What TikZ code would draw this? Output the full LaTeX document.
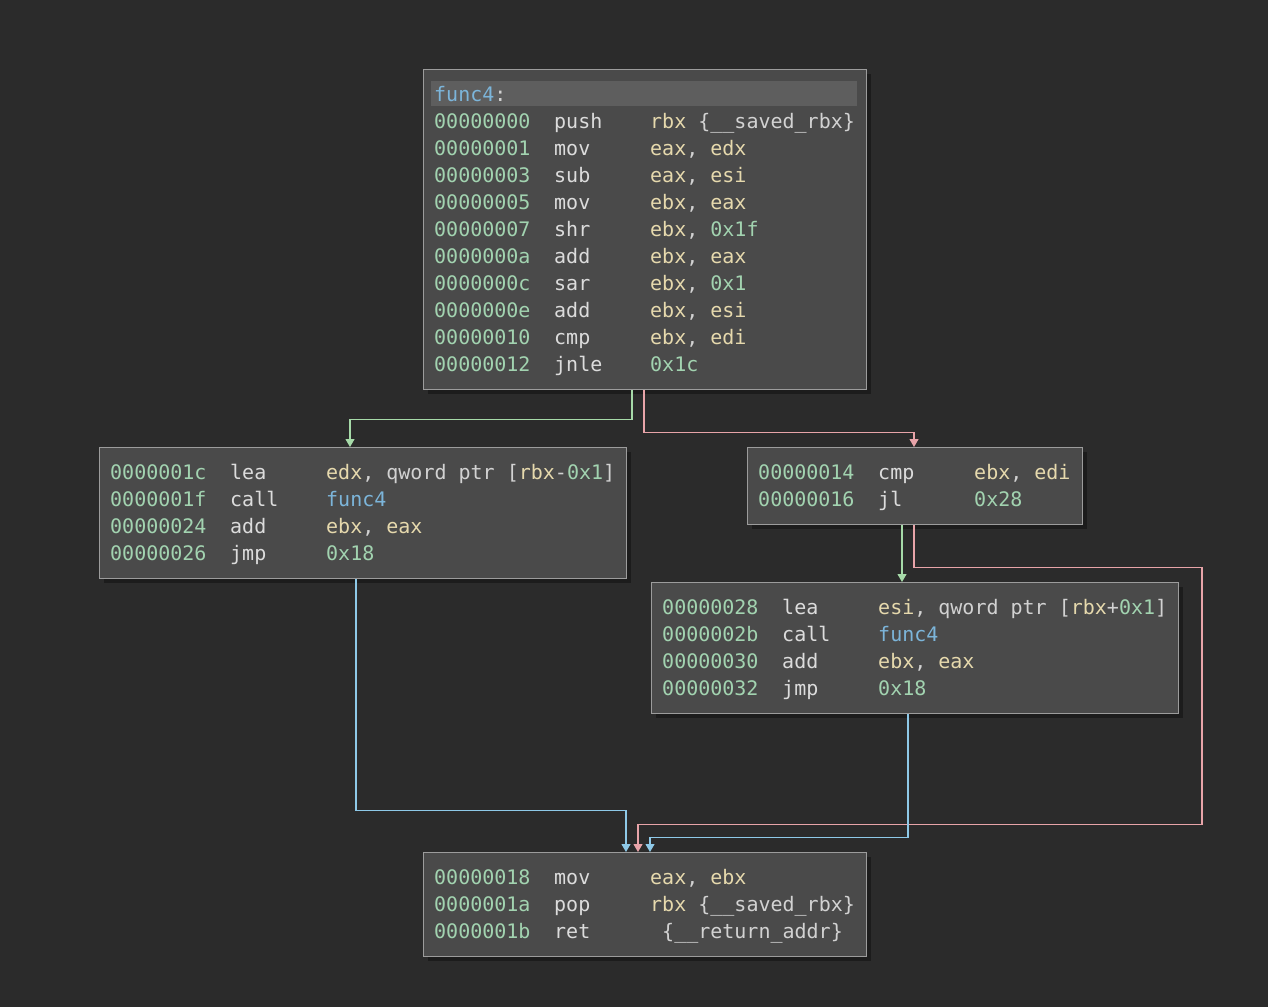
\documentclass[tikz,border=0pt]{standalone}
\usepackage{fontspec}
\usetikzlibrary{arrows.meta,shadows}
\newfontfamily\codefont{DejaVu Sans Mono}
\definecolor{bgc}{HTML}{2B2B2B}
\definecolor{boxc}{HTML}{4A4A4A}
\definecolor{bordc}{HTML}{9C9C9C}
\definecolor{headc}{HTML}{5E5E5E}
\definecolor{shadc}{HTML}{1C1C1C}
\definecolor{addrc}{HTML}{A2D3B0}
\definecolor{mnc}{HTML}{DCDCDC}
\definecolor{txc}{HTML}{D2D2D2}
\definecolor{regc}{HTML}{E6D9AD}
\definecolor{numc}{HTML}{A2D3B0}
\definecolor{fnc}{HTML}{7CB5DA}
\definecolor{egc}{HTML}{A6DAA8}
\definecolor{erc}{HTML}{E8A4A9}
\definecolor{ebc}{HTML}{8EC9E8}
\newcommand\cRg[1]{\textcolor{regc}{#1}}
\newcommand\cNm[1]{\textcolor{numc}{#1}}
\newcommand\cFn[1]{\textcolor{fnc}{#1}}
\newcommand\codeline[6]{%
  \node[code,text=addrc] (#1a) at (#2,#3) {#4};
  \node[code,text=mnc] (#1m) at ({#2+120},#3) {#5};
  \node[code,text=txc] (#1o) at ({#2+216},#3) {#6};}
\begin{document}
\begin{tikzpicture}[x=1pt,y=-1pt,
  blk/.style={draw=bordc, line width=1.2pt, fill=boxc, anchor=north west, inner sep=0pt,
    general shadow={fill=shadc, shadow xshift=4pt, shadow yshift=-4pt}},
  code/.style={anchor=base west, inner sep=0pt, font=\codefont\fontsize{20}{24}\selectfont},
  edgebase/.style={line width=1.1pt, -{Triangle[width=9pt,length=8pt]}},
  eg/.style={edgebase, draw=egc},
  er/.style={edgebase, draw=erc},
  eb/.style={edgebase, draw=ebc}]
\fill[bgc] (0,0) rectangle (1268,1007);
\useasboundingbox (0,0) rectangle (1268,1007);

% blocks
\node[blk, minimum width=443pt, minimum height=320pt] (A) at (423,69) {};
\node[blk, minimum width=527pt, minimum height=131pt] (B) at (99,447) {};
\node[blk, minimum width=335pt, minimum height=77pt] (C) at (747,447) {};
\node[blk, minimum width=527pt, minimum height=131pt] (D) at (651,582) {};
\node[blk, minimum width=443pt, minimum height=104pt] (E) at (423,852) {};

% header of A
\node[fill=headc, anchor=north west, minimum width=426pt, minimum height=25pt, inner sep=0pt] (Ahead) at (431,81) {};
\node[code,text=txc] (Atitle) at (434,101) {\cFn{func4}:};

% block A
\codeline{A1}{434}{128}{00000000}{push}{\cRg{rbx} \{\_\_saved\_rbx\}}
\codeline{A2}{434}{155}{00000001}{mov}{\cRg{eax}, \cRg{edx}}
\codeline{A3}{434}{182}{00000003}{sub}{\cRg{eax}, \cRg{esi}}
\codeline{A4}{434}{209}{00000005}{mov}{\cRg{ebx}, \cRg{eax}}
\codeline{A5}{434}{236}{00000007}{shr}{\cRg{ebx}, \cNm{0x1f}}
\codeline{A6}{434}{263}{0000000a}{add}{\cRg{ebx}, \cRg{eax}}
\codeline{A7}{434}{290}{0000000c}{sar}{\cRg{ebx}, \cNm{0x1}}
\codeline{A8}{434}{317}{0000000e}{add}{\cRg{ebx}, \cRg{esi}}
\codeline{A9}{434}{344}{00000010}{cmp}{\cRg{ebx}, \cRg{edi}}
\codeline{A10}{434}{371}{00000012}{jnle}{\cNm{0x1c}}

% block B
\codeline{B1}{110}{479}{0000001c}{lea}{\cRg{edx}, qword ptr [\cRg{rbx}-\cNm{0x1}]}
\codeline{B2}{110}{506}{0000001f}{call}{\cFn{func4}}
\codeline{B3}{110}{533}{00000024}{add}{\cRg{ebx}, \cRg{eax}}
\codeline{B4}{110}{560}{00000026}{jmp}{\cNm{0x18}}

% block C
\codeline{C1}{758}{479}{00000014}{cmp}{\cRg{ebx}, \cRg{edi}}
\codeline{C2}{758}{506}{00000016}{jl}{\cNm{0x28}}

% block D
\codeline{D1}{662}{614}{00000028}{lea}{\cRg{esi}, qword ptr [\cRg{rbx}+\cNm{0x1}]}
\codeline{D2}{662}{641}{0000002b}{call}{\cFn{func4}}
\codeline{D3}{662}{668}{00000030}{add}{\cRg{ebx}, \cRg{eax}}
\codeline{D4}{662}{695}{00000032}{jmp}{\cNm{0x18}}

% block E
\codeline{E1}{434}{884}{00000018}{mov}{\cRg{eax}, \cRg{ebx}}
\codeline{E2}{434}{911}{0000001a}{pop}{\cRg{rbx} \{\_\_saved\_rbx\}}
\node[code,text=addrc] (E3a) at (434,938) {0000001b};
\node[code,text=mnc] (E3m) at (554,938) {ret};
\node[code,text=txc] (E3o) at (662,938) {\{\_\_return\_addr\}};

% edges
\draw[eg] ([xshift=209pt]A.south west) -- ++(0,29) -| ([xshift=251pt]B.north west);
\draw[er] ([xshift=221pt]A.south west) -- ++(0,42) -| ([xshift=167pt]C.north west);
\draw[eg] ([xshift=155pt]C.south west) -- ([xshift=251pt]D.north west);
\draw[er] ([xshift=167pt]C.south west) -- ++(0,42) -- ++(288,0) -- ++(0,257) -| ([xshift=215pt]E.north west);
\draw[eb] ([xshift=257pt]B.south west) -- ++(0,231) -| ([xshift=203pt]E.north west);
\draw[eb] ([xshift=257pt]D.south west) -- ++(0,123) -| ([xshift=227pt]E.north west);
\end{tikzpicture}
\end{document}
